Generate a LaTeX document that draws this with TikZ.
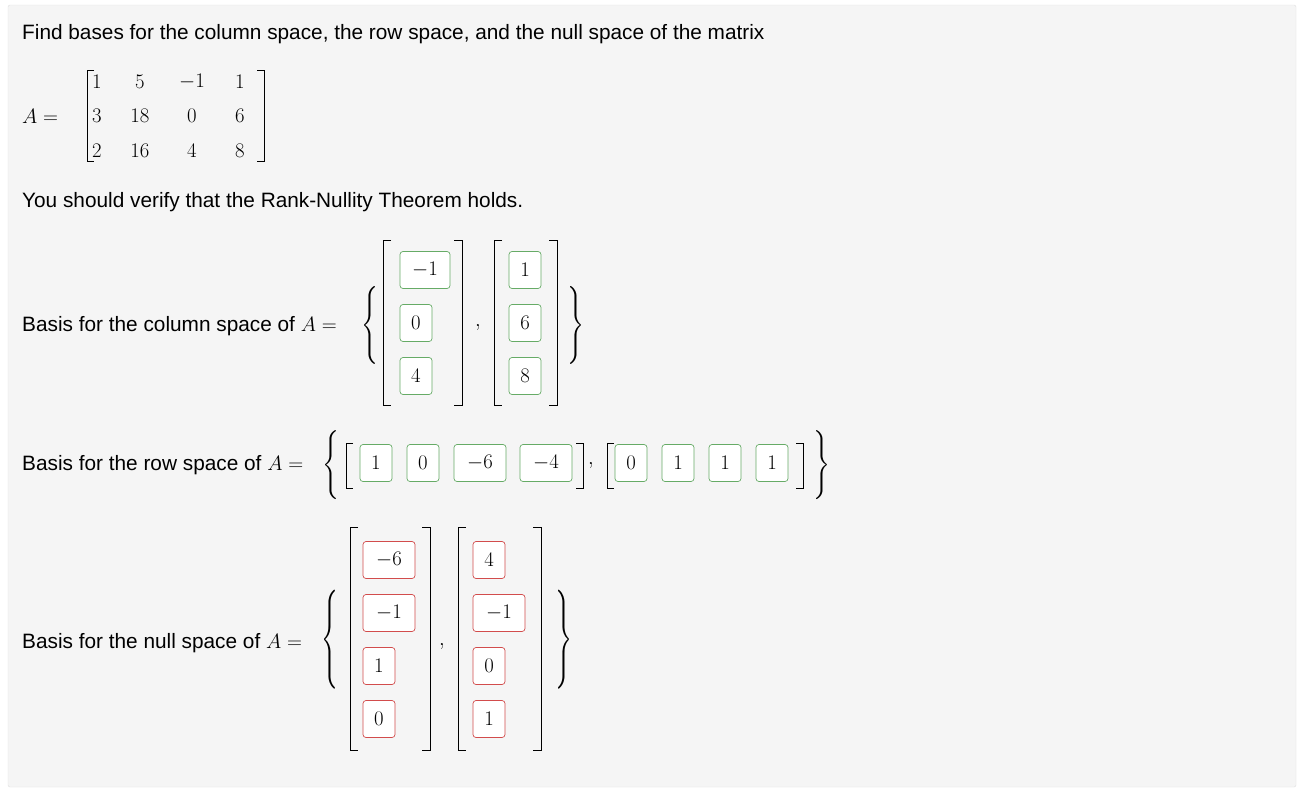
\documentclass[tikz,border=0pt]{standalone}
\usepackage{graphicx}
\usepackage{fontspec}
\newfontfamily\lab{Liberation Sans}
\begin{document}
\begin{tikzpicture}[x=1pt,y=-1pt,
 txt/.style={font=\lab\fontsize{20.8}{24}\selectfont,anchor=west,inner sep=0},
 m/.style={font=\fontsize{22}{24}\selectfont,inner sep=0},
 gbox/.style={draw=green!45!black!60,line width=0.7,rounded corners=3,fill=white,font=\fontsize{21}{24}\selectfont,minimum height=37,minimum width=32,inner sep=0},
 rbox/.style={gbox,draw=red!75!black!70},
 brc/.style={inner sep=0},
 brk/.style={line width=1}]
\useasboundingbox (0,0) rectangle (1306,790);
\fill[white] (0,0) rectangle (1306,790);
\draw[black!12,fill=black!4,rounded corners=2] (8,5) rectangle (1296,787);
\node[txt] (t1) at (22,34) {Find bases for the column space, the row space, and the null space of the matrix};
\node[m,anchor=west] (A) at (22,116) {$A=$};
\draw[brk] (94,70)--(87,70)--(87,161)--(94,161);
\draw[brk] (257,70)--(264,70)--(264,161)--(257,161);
\foreach \r/\y/\a/\b/\c/\d in {1/82/1/5/-1/1, 2/116/3/18/0/6, 3/151/2/16/4/8}{
 \node[m] (a\r1) at (97,\y) {$\a$};
 \node[m] (a\r2) at (140,\y) {$\b$};
 \node[m] (a\r3) at (192,\y) {$\c$};
 \node[m] (a\r4) at (240,\y) {$\d$};}
\node[txt] (t2) at (22,202) {You should verify that the Rank-Nullity Theorem holds.};
% column space
\node[txt] (lc) at (22,326) {Basis for the column space of {\fontsize{22}{24}\selectfont$A=$}};
\node[brc] (bl1) at (370,325) {\scalebox{2.1}[2.6]{$\Biggl\{$}};
\node[brc] (br1) at (576,325) {\scalebox{2.1}[2.6]{$\Biggr\}$}};
\draw[brk] (391,240)--(383,240)--(383,405)--(391,405);
\draw[brk] (454,240)--(462,240)--(462,405)--(454,405);
\node[gbox,minimum width=50] (c11) at (425,270) {$-1$};
\node[gbox] (c12) at (416,323) {$0$};
\node[gbox] (c13) at (416,376) {$4$};
\node[m] (cm1) at (478,328) {$,$};
\draw[brk] (502,240)--(494,240)--(494,405)--(502,405);
\draw[brk] (549,240)--(557,240)--(557,405)--(549,405);
\node[gbox] (c21) at (525,270) {$1$};
\node[gbox] (c22) at (525,323) {$6$};
\node[gbox] (c23) at (525,376) {$8$};
% row space
\node[txt] (lr) at (22,465) {Basis for the row space of {\fontsize{22}{24}\selectfont$A=$}};
\node[brc] (bl2) at (331,465) {\scalebox{2.1}[2.3]{$\Biggl\{$}};
\node[brc] (br2) at (822,465) {\scalebox{2.1}[2.3]{$\Biggr\}$}};
\draw[brk] (353,443)--(346,443)--(346,488)--(353,488);
\draw[brk] (576,443)--(583,443)--(583,488)--(576,488);
\node[gbox] (r11) at (376,463) {$1$};
\node[gbox] (r12) at (423,463) {$0$};
\node[gbox,minimum width=52] (r13) at (480,463) {$-6$};
\node[gbox,minimum width=52] (r14) at (546,463) {$-4$};
\node[m] (cm2) at (591,466) {$,$};
\draw[brk] (614,443)--(607,443)--(607,488)--(614,488);
\draw[brk] (796,443)--(803,443)--(803,488)--(796,488);
\node[gbox] (r21) at (631,463) {$0$};
\node[gbox] (r22) at (678,463) {$1$};
\node[gbox] (r23) at (725,463) {$1$};
\node[gbox] (r24) at (772,463) {$1$};
% null space
\node[txt] (ln) at (22,643) {Basis for the null space of {\fontsize{22}{24}\selectfont$A=$}};
\node[brc] (bl3) at (330,640) {\scalebox{2.1}[3.3]{$\Biggl\{$}};
\node[brc] (br3) at (564,640) {\scalebox{2.1}[3.3]{$\Biggr\}$}};
\draw[brk] (358,527)--(350,527)--(350,750)--(358,750);
\draw[brk] (422,527)--(430,527)--(430,750)--(422,750);
\node[rbox,minimum width=52] (n11) at (389,560) {$-6$};
\node[rbox,minimum width=52] (n12) at (389,613) {$-1$};
\node[rbox] (n13) at (379,666) {$1$};
\node[rbox] (n14) at (379,719) {$0$};
\node[m] (cm3) at (442,646) {$,$};
\draw[brk] (466,527)--(458,527)--(458,750)--(466,750);
\draw[brk] (533,527)--(541,527)--(541,750)--(533,750);
\node[rbox] (n21) at (489,560) {$4$};
\node[rbox,minimum width=52] (n22) at (499,613) {$-1$};
\node[rbox] (n23) at (489,666) {$0$};
\node[rbox] (n24) at (489,719) {$1$};
\end{tikzpicture}
\end{document}
